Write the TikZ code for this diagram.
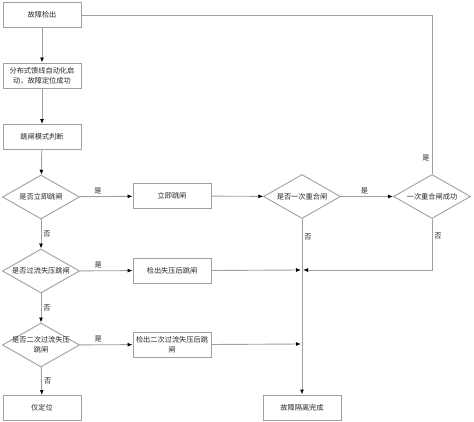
\documentclass[tikz,border=0pt]{standalone}
\usepackage{fontspec}
\newfontfamily\cjk{Noto Sans CJK SC}
\usetikzlibrary{shapes.geometric,arrows.meta}
\definecolor{ln}{HTML}{A0A0A0}
\tikzset{
  x=1pt,y=-1pt,
  base/.style={font=\cjk\fontsize{7.2}{10}\selectfont, text=black!85},
  box/.style={base, draw=ln, line width=0.9pt, rectangle, minimum width=78pt, minimum height=25pt, inner sep=1pt, align=center},
  dia/.style={draw=ln, line width=0.9pt, diamond, minimum width=77pt, minimum height=44pt, inner sep=0pt},
  txt/.style={base, align=center, inner sep=0pt},
  lab/.style={base, inner sep=2pt},
  conn/.style={draw=ln, line width=0.9pt},
  arr/.style={conn, -{Latex[length=5pt,width=4pt,color=black]}},
}
\begin{document}
\begin{tikzpicture}
\useasboundingbox (0,0) rectangle (474,422);
% left column
\node[box] (b1) at (42,15) {故障检出};
\node[box] (b2) at (42,75.5) {分布式馈线自动化启\\动，故障定位成功};
\node[box] (b3) at (42,137) {跳闸模式判断};
\node[dia] (d1) at (41,197) {};
\node[txt] (d1t) at (d1) {是否立即跳闸};
\node[dia] (d2) at (41,271) {};
\node[txt] (d2t) at (d2) {是否过流失压跳闸};
\node[dia] (d3) at (41,345) {};
\node[txt] (d3t) at (d3) {是否二次过流失压\\跳闸};
\node[box] (b4) at (42,408) {仅定位};
% middle column
\node[box] (m1) at (172,196) {立即跳闸};
\node[box] (m2) at (172,270.5) {检出失压后跳闸};
\node[box] (m3) at (172,344.5) {检出二次过流失压后跳\\闸};
% right part
\node[dia] (d4) at (302,196.5) {};
\node[txt] (d4t) at (d4) {是否一次重合闸};
\node[dia] (d5) at (432,196.5) {};
\node[txt] (d5t) at (d5) {一次重合闸成功};
\node[box] (b5) at (302,407.5) {故障隔离完成};
\coordinate (j1) at (302,270);
\coordinate (j2) at (302,344);
% connectors
\draw[arr] (b1) -- (b2);
\draw[arr] (b2) -- (b3);
\draw[arr] (b3) -- (d1);
\draw[arr] (d1) -- node[lab,pos=0.35,above]{是} (m1);
\draw[arr] (d1) -- node[lab,right,pos=0.5]{否} (d2);
\draw[arr] (d2) -- node[lab,pos=0.35,above]{是} (m2);
\draw[arr] (d2) -- node[lab,right,pos=0.5]{否} (d3);
\draw[arr] (d3) -- node[lab,pos=0.35,above]{是} (m3);
\draw[arr] (d3) -- node[lab,right,pos=0.5]{否} (b4);
\draw[arr] (m1) -- (d4);
\draw[arr] (d4) -- node[lab,pos=0.45,above]{是} (d5);
\draw[arr] (d4) -- node[lab,right,pos=0.1]{否} (b5);
\draw[arr] (m2.east) -- ([xshift=-1pt]j1);
\draw[arr] (m3.east) -- ([xshift=-1pt]j2);
\draw[arr] (d5.south) -- node[lab,right,pos=0.33]{否} (432,270) -- ([xshift=1pt]j1);
\draw[conn] (d5.north) -- node[lab,left,pos=0.1]{是} (432,15) -- (b1.east);
\end{tikzpicture}
\end{document}
